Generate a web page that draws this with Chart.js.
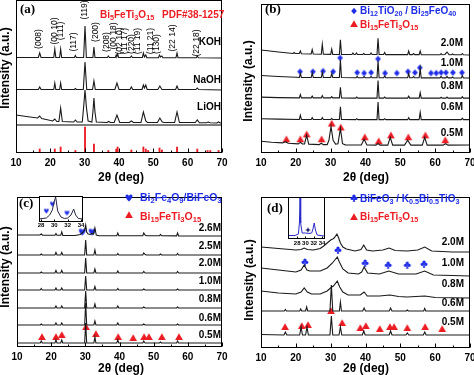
<!DOCTYPE html>
<html><head><meta charset="utf-8">
<script src="https://cdn.jsdelivr.net/npm/chart.js@4.4.1/dist/chart.umd.min.js"></script>
<style>
html,body{margin:0;padding:0;background:#fff;}
body{width:474px;height:375px;position:relative;overflow:hidden;}
canvas{position:absolute;}
</style></head><body>
<canvas id="ca" width="237" height="190" style="left:0;top:0"></canvas>
<canvas id="cb" width="250" height="190" style="left:237px;top:0"></canvas>
<canvas id="cc" width="237" height="190" style="left:0;top:185px"></canvas>
<canvas id="cd" width="250" height="190" style="left:237px;top:185px"></canvas>
<canvas id="ic" width="60" height="42" style="left:30px;top:190px"></canvas>
<canvas id="id" width="52" height="58" style="left:280px;top:192px"></canvas>
<script>
// ---------------- DATA (2θ in degrees, intensity in arbitrary offset units) ----------------
const xTicks = [10, 20, 30, 40, 50, 60, 70];
const insetTicks = [28, 30, 32, 34];

// Panel (a)
const aKOH = [[10,94.5],[16.5,94.5],[16.9,99],[17.3,94.5],[21.0,94.5],[21.3,103],[21.6,94.5],[22.7,94.5],[23.0,103],[23.3,94.5],[27.0,94.5],[27.3,96.5],[27.6,94.5],[29.7,94.5],[30.1,126],[30.5,94.5],[32.4,94.5],[32.7,105],[33.0,94.5],[36.6,94.5],[36.9,96],[37.2,94.5],[38.9,94.5],[39.2,97],[39.4,96],[39.6,98],[39.9,94.5],[43.3,94.5],[43.6,96],[43.9,94.5],[46.8,94.5],[47.1,99],[47.4,95],[47.8,97],[48.1,94.3],[51.5,94.3],[51.8,97],[52.1,95],[52.5,96],[52.8,94.3],[56.6,94.3],[56.9,99],[57.2,94.2],[62.5,94.2],[62.8,96],[63.1,94.2],[70,94]];
const aNaOH = [[10,62.5],[16.5,62.5],[16.9,65],[17.3,62.5],[21.0,62.5],[21.3,69],[21.6,62.5],[22.7,62.5],[23.0,69],[23.3,62.5],[27.0,62.5],[27.3,63.5],[27.6,62.5],[29.6,62.5],[30.1,90],[30.6,62.5],[32.3,62.5],[32.7,71],[33.1,62.5],[38.8,62.5],[39.4,69],[40.0,62.5],[43.2,62.5],[43.6,65],[44.0,62.5],[46.7,62.5],[47.1,67],[47.4,64],[47.8,67],[48.2,62.5],[51.3,62.5],[51.9,66],[52.5,62.5],[56.5,62.5],[56.9,66],[57.3,62.5],[62.4,62.5],[62.8,64],[63.2,62.5],[70,62]];
const aLiOH = [[10,37],[13,35.5],[16.3,34],[16.9,36],[17.5,33.5],[20.7,31],[21.3,33],[21.9,30.5],[22.5,30.5],[23.0,44],[23.5,30.5],[26.8,30],[27.3,32],[27.8,30],[29.3,30],[29.7,45],[30.1,62],[30.5,45],[31.0,31],[32.1,30],[32.4,40],[32.7,54],[33.0,40],[33.4,30],[36.5,29.5],[37.0,30.5],[37.5,29.5],[38.6,29.5],[39.4,37],[40.2,29.5],[43.0,29.5],[43.6,31],[44.2,29.5],[46.4,29.5],[47.1,40],[47.8,31],[48.3,29.5],[51.2,29.5],[51.9,34],[52.6,30],[53.2,29.5],[56.2,29.5],[56.9,40],[57.6,29.5],[62.2,29.5],[62.8,32],[63.4,29.2],[65.5,29.2],[66.0,30],[66.5,29.2],[68.5,29],[69.0,30],[69.5,29],[70,29]];
const aDivider = [[10,27],[70,27]];
const refPos = [16.9,21.3,23.0,27.3,30.1,32.7,36.9,39.2,39.6,43.6,47.1,47.8,48.5,51.8,52.5,56.9,62.8,65.8,66.6,69.0];
const refInt = [3,3,5,1.5,25,8,1.5,3,5,2,5,3,1.5,4,2,5,3,1.5,1.5,1.5];
const hklText = ['(008)','(00 10)','(111)','(117)','(119)','(200)','(208)','(00 18)','(02 10)','(11 17)','(220)','(11 19)','(11 21)','(130)','(22 14)','(22 18)'];
const hklPos  = [16.7,21.4,23.1,26.9,30.1,33.3,36.5,38.5,40.3,41.7,43.8,45.5,49.3,51.1,55.7,62.7];
const hklLevel= [113,121,121,110,142,120,110,116,111,111,108,111,111,108,114,109];
const aSamples = ['KOH','NaOH','LiOH'];

// Panel (b)
const b20 = [[10,104],[15,102],[19.2,100.5],[19.5,101.5],[19.8,100.5],[21.0,100.5],[21.3,103],[21.6,100.3],[24.4,100],[24.7,104.5],[25.0,100],[27.3,99.8],[27.6,110],[27.9,99.8],[30.0,99.6],[30.3,105],[30.6,99.6],[32.5,99.5],[32.8,114.5],[33.1,99.5],[36.1,99.5],[36.4,101],[36.7,99.5],[37.1,99.5],[37.4,101],[37.7,99.5],[39.2,99.5],[39.5,100.5],[39.8,99.5],[41.3,99.5],[41.6,101],[41.9,99.5],[43.3,99.5],[43.6,116],[43.9,99.5],[45.2,99.5],[45.5,101.5],[45.8,99.3],[52.1,99.3],[52.4,103],[52.7,99.3],[53.5,99.3],[53.8,100.5],[54.1,99.3],[55.4,99.3],[55.7,103],[56.0,99.2],[61.4,99.2],[61.7,100.5],[62.0,99.2],[62.8,99.5],[63.4,102],[64.0,99.3],[64.7,99.2],[65.0,100],[65.3,99.2],[67.5,99.2],[67.8,100.5],[68.1,99.2],[70,99]];
const b10 = [[10,78],[15,77],[20,76.2],[21.0,76],[21.3,80],[21.6,76],[24.4,76],[24.7,80.5],[25.0,76],[27.3,76],[27.6,81],[27.9,76],[30.0,76],[30.3,80],[30.6,76],[32.5,76],[32.8,94],[33.1,76],[37.3,75.8],[37.6,77],[37.9,75.8],[39.3,75.8],[39.6,77],[39.9,75.8],[41.3,75.8],[41.6,77],[41.9,75.8],[43.3,75.8],[43.6,93],[43.9,75.8],[45.2,75.8],[45.5,77.5],[45.8,75.7],[52.1,75.7],[52.4,80],[52.7,75.7],[53.5,75.7],[53.8,77],[54.1,75.7],[55.4,75.7],[55.7,85],[56.0,75.6],[61.4,75.6],[61.7,77],[62.0,75.6],[63.1,75.6],[63.4,77],[63.7,75.6],[64.7,75.6],[65.0,76.5],[65.3,75.6],[67.5,75.5],[67.8,78],[68.1,75.5],[70,75.5]];
const b08 = [[10,56],[15,55.5],[21.0,55.2],[21.3,58.5],[21.6,55.2],[24.4,55.2],[24.7,57],[25.0,55.2],[27.3,55.2],[27.6,57.5],[27.9,55.2],[30.0,55.2],[30.3,56.5],[30.6,55.2],[32.5,55.2],[32.8,66],[33.1,55.2],[37.2,55],[37.5,56],[37.8,55],[43.3,55],[43.6,73],[43.9,55],[45.2,55],[45.5,56],[45.8,55],[52.1,55],[52.4,57],[52.7,55],[55.4,55],[55.7,60.5],[56.0,55],[61.4,55],[61.7,55.8],[62.0,55],[63.1,55],[63.4,56],[63.7,55],[67.5,55],[67.8,56.5],[68.1,55],[70,55]];
const b06 = [[10,34],[15,33.5],[21.0,33.2],[21.3,37.5],[21.6,33.2],[24.4,33.2],[24.7,35],[25.0,33.2],[27.3,33.2],[27.6,35],[27.9,33.2],[30.0,33.2],[30.3,34.2],[30.6,33.2],[32.5,33.2],[32.8,46],[33.1,33.2],[37.2,33],[37.5,34],[37.8,33],[43.3,33],[43.6,51],[43.9,33],[45.2,33],[45.5,34],[45.8,33],[52.1,33],[52.4,35],[52.7,33],[55.4,33],[55.7,40.5],[56.0,33],[67.5,33],[67.8,34.5],[68.1,33],[70,33]];
const b05 = [[10,11],[13,10],[16.2,9.3],[17.0,10.5],[17.8,9],[20.7,8.3],[21.3,9.8],[21.9,8.2],[22.5,8.2],[23.1,17],[23.7,8],[26.7,7.5],[27.3,9],[27.9,7.5],[29.0,7.5],[29.5,12],[30.1,26],[30.7,12],[31.4,8],[32.1,8.5],[32.8,24],[33.4,8.5],[34.2,7.3],[38.8,7.2],[39.6,13],[40.4,7.2],[43.0,7],[43.6,8.5],[44.2,7],[46.4,7],[47.1,15],[47.8,7],[51.2,7],[52.1,12],[53.0,7],[56.3,7],[57.0,15],[57.7,7],[62.3,7],[63.0,8.5],[63.7,7],[70,7.2]];
const bDiamonds = [[21.2,82],[24.9,82],[27.8,82.5],[30.7,82],[32.7,96],[37.6,81],[39.6,80.5],[41.6,81],[43.6,95],[45.6,80.5],[49.0,80.5],[52.2,82],[54.2,81],[55.6,86],[58.8,80.5],[60.3,80.5],[61.7,81],[63.1,81],[65.1,81],[67.7,81]];
const bTriangles = [[17.3,13],[21.3,13],[23.1,18],[27.4,13],[30.3,29],[32.9,25],[39.8,15],[43.8,11],[47.3,17],[52.3,15],[57.2,17],[62.9,12]];
const bSamples = ['2.0M','1.0M','0.8M','0.6M','0.5M'];

// Panel (c)
const c26 = [[10,111],[16.7,111],[17.1,112],[17.5,110.8],[21.1,110.8],[21.4,112.5],[21.7,110.7],[22.8,110.7],[23.1,114],[23.4,110.6],[27,110.5],[28.5,111.5],[29.1,113],[29.5,114.5],[29.8,116],[30.1,121],[30.4,114],[30.8,112],[31.5,111.5],[31.9,112.5],[32.4,112],[32.8,118],[33.2,111],[34,110.3],[39.2,110.3],[39.5,113],[39.8,110.3],[46.8,110.2],[47.1,113],[47.5,111],[47.9,110.2],[51.7,110.2],[52.0,111.5],[52.3,110.2],[56.7,110.1],[57.0,113],[57.3,110],[70,110]];
const c25 = [[10,91],[16.8,91],[17.1,92],[17.4,91],[21.1,91],[21.4,93.5],[21.7,91],[22.8,91],[23.1,93.5],[23.4,91],[29.8,91],[30.1,106],[30.4,91],[32.5,91],[32.8,96],[33.1,91],[39.2,91],[39.5,92.5],[39.8,91],[46.8,91],[47.1,93],[47.5,91.5],[47.9,91],[51.7,91],[52.0,92],[52.3,91],[56.7,91],[57.0,92.5],[57.3,91],[70,91]];
const c20 = [[10,73],[16.8,73],[17.1,74],[17.4,73],[21.1,73],[21.4,75.5],[21.7,73],[22.8,73],[23.1,75.5],[23.4,73],[29.8,73],[30.1,88],[30.4,73],[32.5,73],[32.8,77],[33.1,73],[39.2,73],[39.5,75],[39.8,73],[46.8,73],[47.1,74.5],[47.5,73],[56.7,73],[57.0,74.5],[57.3,73],[70,73]];
const c10 = [[10,56],[16.8,56],[17.1,57.5],[17.4,56],[21.1,56],[21.4,58],[21.7,56],[22.8,56],[23.1,58],[23.4,56],[29.8,56],[30.1,70],[30.4,56],[32.5,56],[32.8,59.5],[33.1,56],[39.2,56],[39.5,57.5],[39.8,56],[46.8,56],[47.1,57],[47.5,56],[56.7,56],[57.0,57],[57.3,56],[70,56]];
const c08 = [[10,38],[21.1,38],[21.4,40],[21.7,38],[22.8,38],[23.1,40],[23.4,38],[29.8,38],[30.1,55],[30.4,38],[32.5,38],[32.8,42],[33.1,38],[39.2,38],[39.5,40],[39.8,38],[46.8,38],[47.1,39],[47.5,38],[56.7,38],[57.0,39],[57.3,38],[70,38]];
const c06 = [[10,21],[16.8,21],[17.1,22],[17.4,21],[21.1,21],[21.4,23],[21.7,21],[22.8,21],[23.1,23],[23.4,21],[29.8,21],[30.1,43],[30.4,21],[32.5,21],[32.8,25],[33.1,21],[39.2,21],[39.5,23],[39.8,21],[46.8,21],[47.1,22],[47.5,21],[56.7,21],[57.0,22],[57.3,21],[70,21]];
const c05 = [[10,3],[16.8,3],[17.1,5],[17.4,3],[21.1,3],[21.4,6],[21.7,3],[22.8,3],[23.1,6],[23.4,3],[29.8,3],[30.1,23],[30.4,3],[32.5,3],[32.8,9],[33.1,3],[39.2,3],[39.5,6],[39.8,3],[46.8,3],[47.1,5],[47.5,3],[51.7,3],[52.0,4],[52.3,3],[56.7,3],[57.0,5],[57.3,3],[70,3]];
const cHearts = [[29.1,114],[32.0,114]];
const cTriangles = [[17.3,9],[21.4,9],[23.1,11],[30.2,19],[33.1,12],[39.6,9],[44.0,8],[47.2,9],[48.6,9],[52.4,9],[57.4,9]];
const cSamples = ['2.6M','2.5M','2.0M','1.0M','0.8M','0.6M','0.5M'];
const cInset = [[27.7,2],[28.8,3],[29.3,6],[29.7,11],[30.0,20],[30.2,24],[30.5,10],[31.0,4],[31.5,2.5],[32.0,3],[32.5,6],[32.9,12],[33.2,6],[33.6,2.5],[34.3,2]];
const cInsetHearts = [[28.8,10],[29.7,17],[31.9,8]];

// Panel (d)
const d20 = [[10,100],[15,98.5],[20,97],[21.5,97.5],[22.4,99],[23.3,97.5],[25,97],[27,98.5],[28,101],[29,104],[30,107],[30.6,108],[31,109],[31.8,113],[32.3,109],[32.8,104],[33.5,100],[34.5,98],[37,96],[38.7,97.5],[39.5,102],[40.3,97],[42,96],[45,97],[46.8,99],[48.5,96.5],[52,96],[55,97],[57,100],[59,96],[65,95],[70,95]];
const d10 = [[10,79],[15,77],[20,75],[21.5,77],[22.4,82],[23.2,77],[24,76],[27,76],[29,79],[30.5,84],[31.9,90],[32.5,85],[33.5,78],[35,74],[38,73],[38.9,75],[39.6,80],[40.6,74],[44,73],[46.7,76],[49.5,73],[52,73],[54.5,73],[57,76],[59.5,72],[65,71.5],[70,71]];
const d08 = [[10,56],[15,54],[20,53],[21.5,55],[22.4,59],[23.3,55],[24.5,53],[27,53],[29,56],[30.3,60],[30.8,61],[31.9,66],[32.6,60],[33.5,55],[35,52],[38.5,52],[39.6,55],[40.5,51],[44,51],[47,52],[49.5,50.5],[52,50],[57,51],[60,49.5],[70,49]];
const d06 = [[10,36],[16.7,36],[17.0,37.5],[17.3,36],[21.1,36],[21.4,38],[21.7,36],[22.8,36],[23.1,40],[23.4,36],[29.8,36],[30.2,62],[30.6,36],[32.5,36],[32.8,45],[33.1,36],[39.2,36],[39.6,39],[40.0,36],[46.8,36],[47.2,39],[47.6,36],[51.7,36],[52.0,37],[52.3,36],[56.7,36],[57.0,38.5],[57.3,36],[70,36]];
const d05 = [[10,12.5],[16.6,12],[17.0,15],[17.4,12],[21.1,12],[21.5,20],[21.9,12],[22.8,12],[23.2,20],[23.6,12],[29.8,12],[30.2,31],[30.6,12],[32.4,12],[32.8,20],[33.2,12],[39.1,12],[39.5,16],[39.9,12],[46.8,12],[47.2,16],[47.6,12],[51.6,12],[52.0,14],[52.4,12],[56.6,12],[57.0,15],[57.4,12],[70,12]];
const dClubs = [[22.6,85],[32.1,97],[39.9,84],[46.5,82],[52.0,82],[56.8,83]];
const dTriangles = [[16.9,20],[21.7,21],[23.5,22],[30.1,36],[33.3,24],[38.5,19],[40.1,21],[44.1,18],[47.0,20],[48.2,20],[52.0,19],[57.1,20],[62.0,18]];
const dSamples = ['2.0M','1.0M','0.8M','0.6M','0.5M'];
const dInset = [[25.8,2.5],[27.5,2.5],[28.3,4],[28.55,15],[28.7,41],[28.85,15],[29.2,5],[30.0,5],[30.8,4.5],[31.5,5],[31.8,9],[32.1,15],[32.4,8],[32.8,3],[33.5,2.5],[34.7,2]];
const dInsetStar = [[30.6,8]];

// ---------------- STYLE / DRAWING ----------------
const FONT = '"Liberation Sans", Arial, Helvetica, sans-serif';
const SERIF = '"Liberation Serif", "Times New Roman", serif';
const TRACE = '#1a1a1a', RED = '#ec1c24', BLUE = '#1f2de6';

function shapePath(c, kind, x, y, r){
  c.beginPath();
  if(kind==='tri'){ c.moveTo(x,y-r); c.lineTo(x+r*1.05,y+r*0.8); c.lineTo(x-r*1.05,y+r*0.8); c.closePath(); }
  else if(kind==='dia'){ c.moveTo(x,y-r); c.lineTo(x+r*0.85,y); c.lineTo(x,y+r); c.lineTo(x-r*0.85,y); c.closePath(); }
  else if(kind==='heart'){
    c.moveTo(x,y+r);
    c.bezierCurveTo(x-r*1.1,y,x-r*1.25,y-r*0.95,x-r*0.5,y-r*0.95);
    c.bezierCurveTo(x-r*0.15,y-r*0.95,x,y-r*0.6,x,y-r*0.4);
    c.bezierCurveTo(x,y-r*0.6,x+r*0.15,y-r*0.95,x+r*0.5,y-r*0.95);
    c.bezierCurveTo(x+r*1.25,y-r*0.95,x+r*1.1,y,x,y+r);
    c.closePath();
  } else if(kind==='club'){
    const s=r*0.45;
    c.moveTo(x+s,y-r*0.5); c.arc(x,y-r*0.5,s,0,Math.PI*2);
    c.moveTo(x-r*0.5+s,y+r*0.1); c.arc(x-r*0.5,y+r*0.1,s,0,Math.PI*2);
    c.moveTo(x+r*0.5+s,y+r*0.1); c.arc(x+r*0.5,y+r*0.1,s,0,Math.PI*2);
    c.moveTo(x,y); c.lineTo(x+r*0.35,y+r); c.lineTo(x-r*0.35,y+r); c.closePath();
  } else if(kind==='star'){
    for(let i=0;i<8;i++){ const ang=i*Math.PI/4-Math.PI/2; const rr=i%2?r*0.4:r; const px=x+rr*Math.cos(ang), py=y+rr*Math.sin(ang); if(i) c.lineTo(px,py); else c.moveTo(px,py);} c.closePath();
  }
}
function markImage(kind,color,r){
  const cv=document.createElement('canvas'); const s=Math.ceil(2*r+2); cv.width=s; cv.height=s;
  const c=cv.getContext('2d'); c.fillStyle=color; shapePath(c,kind,s/2,s/2,r); c.fill(); return cv;
}
function richText(c, s, x, y, size, color, align, weight){
  const parts=[]; const re=/_\{([^}]*)\}/g; let last=0,m;
  while((m=re.exec(s))){ if(m.index>last) parts.push([s.slice(last,m.index),0]); parts.push([m[1],1]); last=re.lastIndex; }
  if(last<s.length) parts.push([s.slice(last),0]);
  const w8 = weight||'bold';
  const fMain=w8+' '+size+'px '+FONT, fSub=w8+' '+(size*0.72).toFixed(1)+'px '+FONT;
  c.save(); c.fillStyle=color; c.textBaseline='middle'; c.textAlign='left';
  let w=0; parts.forEach(p=>{c.font=p[1]?fSub:fMain; w+=c.measureText(p[0]).width;});
  let cx = align==='right'? x-w : align==='center'? x-w/2 : x;
  parts.forEach(p=>{c.font=p[1]?fSub:fMain; c.fillText(p[0],cx,p[1]?y+size*0.32:y); cx+=c.measureText(p[0]).width;});
  c.restore();
}
const decoPlugin = {
  id:'deco',
  beforeDatasetsDraw(chart,args,o){
    if(o.whiteBg){ const a=chart.chartArea,c=chart.ctx; c.save(); c.fillStyle='#fff'; c.fillRect(a.left,a.top,a.right-a.left,a.bottom-a.top); c.restore(); }
  },
  afterDraw(chart,args,o){
    const c=chart.ctx, a=chart.chartArea, xs=chart.scales.x, ys=chart.scales.y;
    c.save();
    c.strokeStyle='#000'; c.lineWidth=o.frameWidth||1;
    const L=Math.round(a.left)+0.5, T=Math.round(a.top)+0.5, R=Math.round(a.right)-0.5, B=Math.round(a.bottom)+0.5;
    c.strokeRect(L,T,R-L,B-T);
    c.lineWidth=1;
    const tickAt=(v,len)=>{const px=Math.round(xs.getPixelForValue(v))+0.5; c.beginPath(); c.moveTo(px,B); c.lineTo(px,B-len); c.stroke();};
    (o.major||[]).forEach(v=>tickAt(v,o.majorLen||4));
    (o.minor||[]).forEach(v=>tickAt(v,o.minorLen||2));
    (o.texts||[]).forEach(t=>{
      let x=t.x, y=t.y;
      if(t.vx!==undefined){ x=xs.getPixelForValue(t.vx); y=ys.getPixelForValue(t.vy); }
      c.save(); c.translate(x,y);
      if(t.rot) c.rotate(-Math.PI/2);
      if(t.rich) richText(c,t.t,0,0,t.size,t.color||'#000',t.align||'left',t.weight);
      else { c.font=(t.weight||'bold')+' '+t.size+'px '+(t.family||FONT); c.fillStyle=t.color||'#000'; c.textAlign=t.align||'left'; c.textBaseline='middle'; c.fillText(t.t,0,0); }
      c.restore();
    });
    (o.marks||[]).forEach(m=>{ c.fillStyle=m.color; shapePath(c,m.kind,m.x,m.y,m.r); c.fill(); });
    c.restore();
  }
};
function lineDs(d,color,w){ return {data:d, borderColor:color||TRACE, borderWidth:w||1.1, pointRadius:0, tension:0, fill:false}; }
function markDs(d,img){ return {data:d, showLine:false, pointStyle:img, pointRadius:4, borderWidth:0, backgroundColor:'rgba(0,0,0,0)'}; }

function makePanel(id, p){
  return new Chart(document.getElementById(id), {
    type:'line',
    data:{datasets:p.datasets},
    options:{
      responsive:false, animation:false, devicePixelRatio:1, events:[],
      layout:{padding:{left:p.left, top:p.top, right:p.right, bottom:0}},
      plugins:{legend:{display:false}, tooltip:{enabled:false}, deco:p.deco},
      scales:{
        x:{type:'linear', min:p.xmin, max:p.xmax, offset:false,
           afterFit:s=>{s.height=p.bottom;},
           afterBuildTicks:s=>{s.ticks=p.ticks.map(v=>({value:v}));},
           grid:{display:false, drawTicks:false, offset:false}, border:{display:false},
           ticks:{autoSkip:false, maxRotation:0, padding:p.tickPad, color:'#000', font:{family:FONT, size:p.tickSize, weight:'bold'}}},
        y:{display:false, min:0, max:p.ymax}
      }
    },
    plugins:[decoPlugin]
  });
}
const minorT=[15,25,35,45,55,65], majorT=xTicks;
const triImg=markImage('tri',RED,3.7), diaImg=markImage('dia',BLUE,3.3), heartImg=markImage('heart',BLUE,3.5), clubImg=markImage('club',BLUE,3.7);
const heartSmall=markImage('heart',BLUE,2.4), starImg=markImage('star','#1a1a6a',3);

// ---- Panel (a)
const aTexts = [
  {t:'(a)', x:20, y:10, size:13, family:SERIF},
  {t:'Bi_{5}FeTi_{3}O_{15}', rich:true, x:100, y:15, size:10, color:RED},
  {t:'PDF#38-1257', x:162, y:15, size:10, color:RED},
  {t:aSamples[0], x:221, y:42, size:10, align:'right'},
  {t:aSamples[1], x:221, y:80, size:10, align:'right'},
  {t:aSamples[2], x:221, y:107, size:10, align:'right'},
  {t:'Intensity (a.u.)', x:6, y:68, size:12, rot:true, align:'center'},
  {t:'2θ (deg)', x:121, y:178, size:12, align:'center'}
];
hklText.forEach((t,i)=>aTexts.push({t, vx:hklPos[i], vy:hklLevel[i], size:8.5, weight:'normal', rot:true, align:'center'}));
makePanel('ca', {left:16, top:0, right:15, bottom:38, xmin:10, xmax:70, ymax:152, ticks:xTicks, tickPad:5, tickSize:10,
  datasets:[lineDs(aKOH), lineDs(aNaOH), lineDs(aLiOH), lineDs(aDivider,'#000',1),
    {type:'bar', data:refPos.map((x,i)=>({x, y:refInt[i]})), backgroundColor:RED, barThickness:1.2, grouped:false, borderWidth:0}],
  deco:{major:majorT, minor:minorT, texts:aTexts}});

// ---- Panel (b)
makePanel('cb', {left:24, top:1, right:17, bottom:38, xmin:10, xmax:70, ymax:151, ticks:xTicks, tickPad:5, tickSize:10,
  datasets:[lineDs(b20), lineDs(b10), lineDs(b08), lineDs(b06), lineDs(b05), markDs(bDiamonds,diaImg), markDs(bTriangles,triImg)],
  deco:{major:majorT, minor:minorT,
    marks:[{kind:'dia',x:117,y:11,r:3.3,color:BLUE},{kind:'tri',x:117,y:24,r:3.7,color:RED}],
    texts:[
      {t:'(b)', x:28, y:10, size:13, family:SERIF},
      {t:'Bi_{12}TiO_{20} / Bi_{25}FeO_{40}', rich:true, x:123, y:11, size:10, color:BLUE},
      {t:'Bi_{15}FeTi_{3}O_{15}', rich:true, x:123, y:25, size:10, color:RED},
      {t:bSamples[0], x:226, y:43, size:10, align:'right'},
      {t:bSamples[1], x:226, y:63, size:10, align:'right'},
      {t:bSamples[2], x:226, y:86, size:10, align:'right'},
      {t:bSamples[3], x:226, y:107, size:10, align:'right'},
      {t:bSamples[4], x:226, y:133, size:10, align:'right'},
      {t:'Intensity (a.u.)', x:12, y:81, size:12, rot:true, align:'center'},
      {t:'2θ (deg)', x:129, y:178, size:12, align:'center'}
    ]}});

// ---- Panel (c)
makePanel('cc', {left:17, top:12, right:15, bottom:29, xmin:10, xmax:70, ymax:149, ticks:xTicks, tickPad:5, tickSize:10,
  datasets:[lineDs(c26), lineDs(c25), lineDs(c20), lineDs(c10), lineDs(c08), lineDs(c06), lineDs(c05), markDs(cHearts,heartImg), markDs(cTriangles,triImg)],
  deco:{major:majorT, minor:minorT,
    marks:[{kind:'heart',x:129,y:13,r:3.6,color:BLUE},{kind:'tri',x:129,y:30,r:3.7,color:RED}],
    texts:[
      {t:'(c)', x:19, y:19, size:13, family:SERIF},
      {t:'Bi_{2}Fe_{4}O_{9}/BiFeO_{3}', rich:true, x:140, y:13, size:10.5, color:BLUE},
      {t:'Bi_{15}FeTi_{3}O_{15}', rich:true, x:140, y:32, size:10.5, color:RED},
      {t:cSamples[0], x:221, y:43, size:10, align:'right'},
      {t:cSamples[1], x:221, y:61, size:10, align:'right'},
      {t:cSamples[2], x:221, y:78, size:10, align:'right'},
      {t:cSamples[3], x:221, y:96, size:10, align:'right'},
      {t:cSamples[4], x:221, y:114, size:10, align:'right'},
      {t:cSamples[5], x:221, y:133, size:10, align:'right'},
      {t:cSamples[6], x:221, y:150, size:10, align:'right'},
      {t:'Intensity (a.u.)', x:6, y:82, size:12, rot:true, align:'center'},
      {t:'2θ (deg)', x:121, y:184, size:12, align:'center'}
    ]}});

// ---- Panel (d)
makePanel('cd', {left:24, top:12, right:17, bottom:28, xmin:10, xmax:70, ymax:150, ticks:xTicks, tickPad:5, tickSize:10,
  datasets:[lineDs(d20), lineDs(d10), lineDs(d08), lineDs(d06), lineDs(d05), markDs(dClubs,clubImg), markDs(dTriangles,triImg)],
  deco:{major:majorT, minor:minorT,
    marks:[{kind:'club',x:117,y:13,r:3.8,color:BLUE},{kind:'tri',x:117,y:32,r:3.7,color:RED}],
    texts:[
      {t:'(d)', x:30, y:24, size:13, family:SERIF},
      {t:'BiFeO_{3} / K_{0.5}Bi_{0.5}TiO_{3}', rich:true, x:123, y:14, size:10, color:BLUE},
      {t:'Bi_{15}FeTi_{3}O_{15}', rich:true, x:123, y:32, size:10, color:RED},
      {t:dSamples[0], x:227, y:57, size:10, align:'right'},
      {t:dSamples[1], x:227, y:78, size:10, align:'right'},
      {t:dSamples[2], x:227, y:99, size:10, align:'right'},
      {t:dSamples[3], x:227, y:118, size:10, align:'right'},
      {t:dSamples[4], x:227, y:137, size:10, align:'right'},
      {t:'Intensity (a.u.)', x:13, y:95, size:12, rot:true, align:'center'},
      {t:'2θ (deg)', x:129, y:184, size:12, align:'center'}
    ]}});

// ---- Insets
makePanel('ic', {left:9, top:6, right:7, bottom:11, xmin:27.7, xmax:34.3, ymax:25, ticks:insetTicks, tickPad:1, tickSize:6,
  datasets:[lineDs(cInset,'#26264a',1), markDs(cInsetHearts,heartSmall)],
  deco:{whiteBg:true, major:insetTicks, majorLen:2, texts:[]}});
makePanel('id', {left:8, top:5, right:7, bottom:12, xmin:25.8, xmax:34.7, ymax:41, ticks:insetTicks, tickPad:2, tickSize:6,
  datasets:[lineDs(dInset,'#2b2bc8',1), markDs(dInsetStar,starImg)],
  deco:{whiteBg:true, major:insetTicks, majorLen:2, texts:[]}});
</script>
</body></html>
